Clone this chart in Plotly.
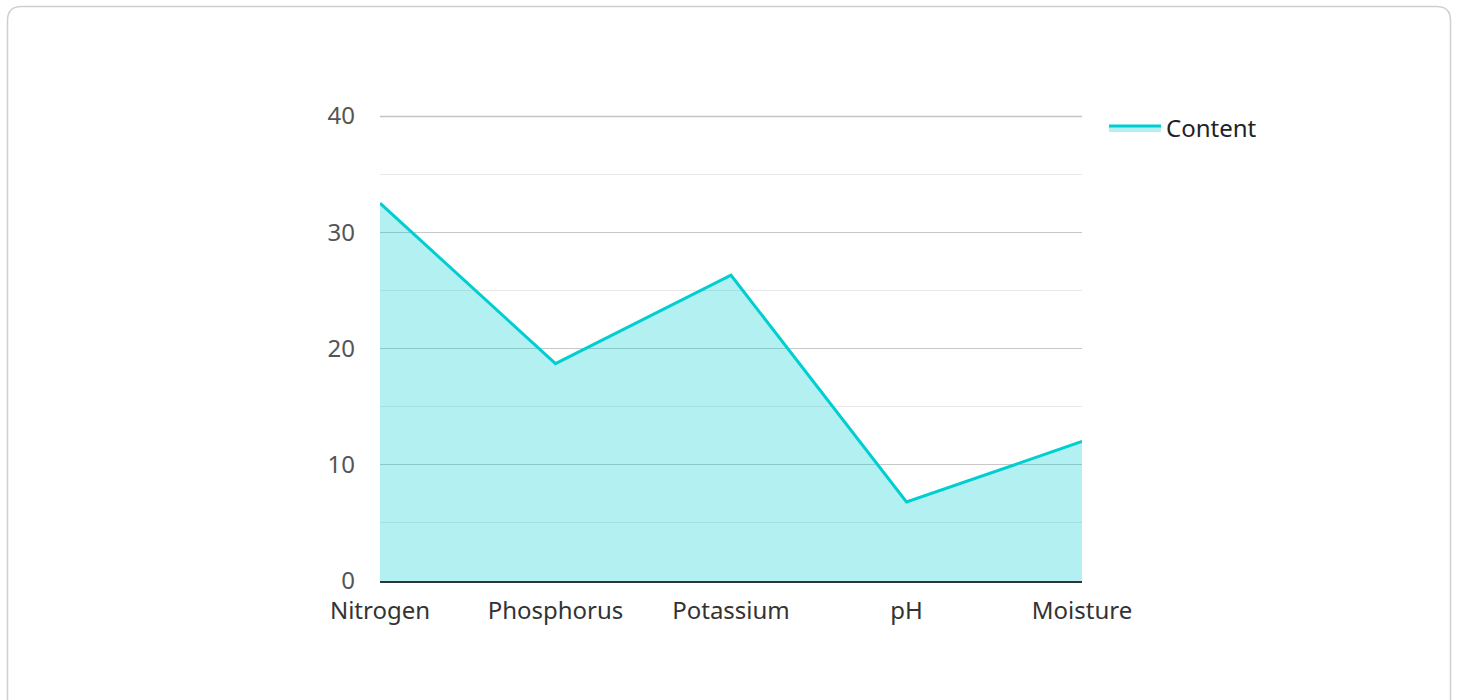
import plotly.graph_objects as go

categories = ["Nitrogen", "Phosphorus", "Potassium", "pH", "Moisture"]
content = [32.5, 18.7, 26.3, 6.8, 12.0]
series_name = "Content"
y_max = 40

W, H = 1458, 700
L, R, T, B = 380, 1082, 116, 581

def px(x):
    return (x - L) / (R - L)

def py(y):
    return (B - y) / (B - T)

fig = go.Figure()
fig.add_trace(go.Scatter(
    x=categories, y=content, name=series_name, mode="lines",
    line=dict(color="#00CED1", width=3),
    fill="tozeroy", fillcolor="rgba(0,206,209,0.3)",
))

r = 14
x0, x1, y0, y1 = 7.5, 1450.5, 6.5, 720
path = (f"M {px(x0+r)},{py(y0)} L {px(x1-r)},{py(y0)} "
        f"Q {px(x1)},{py(y0)} {px(x1)},{py(y0+r)} L {px(x1)},{py(y1)} "
        f"L {px(x0)},{py(y1)} L {px(x0)},{py(y0+r)} "
        f"Q {px(x0)},{py(y0)} {px(x0+r)},{py(y0)} Z")
fig.add_shape(type="path", xref="paper", yref="paper", path=path,
              line=dict(color="#d0d0d0", width=1.5), fillcolor="rgba(0,0,0,0)",
              layer="below")
fig.add_shape(type="line", xref="paper", yref="paper", x0=0, x1=1,
              y0=py(116.5), y1=py(116.5),
              line=dict(color="#c4c4c4", width=1.3), layer="above")

fig.update_layout(
    width=W, height=H,
    margin=dict(l=L, r=W - R, t=T, b=H - B, pad=0),
    paper_bgcolor="white", plot_bgcolor="white",
    font=dict(family="Noto Sans", size=24, color="#333"),
    showlegend=True,
    legend=dict(x=px(1104), y=py(106), xanchor="left", yanchor="top",
                itemwidth=52,
                font=dict(size=24, color="#222"), bgcolor="rgba(0,0,0,0)"),
    xaxis=dict(type="category", range=[0, 4], showgrid=False, zeroline=False,
               showline=True, linecolor="#333", linewidth=2,
               ticks="", tickfont=dict(size=24, color="#333"), ticklabelstandoff=7),
    yaxis=dict(range=[0, y_max], dtick=10, showgrid=True, gridcolor="#c8c8c8", gridwidth=1,
               zeroline=False, showline=False, ticks="",
               tickfont=dict(size=24, color="#555"), ticklabelstandoff=24,
               minor=dict(dtick=5, showgrid=True, gridcolor="#e8e8e8", gridwidth=1)),
)

fig.write_html("out.html")
